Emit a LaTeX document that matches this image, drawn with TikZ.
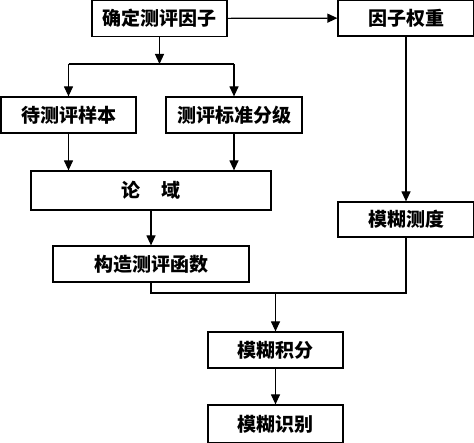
\documentclass[tikz,border=0pt]{standalone}
\usepackage{fontspec}
\newfontfamily\cjk{Noto Sans CJK SC}
\usetikzlibrary{arrows.meta}

\begin{document}
\begin{tikzpicture}[x=1pt, y=-1pt,
    font=\cjk\bfseries\fontsize{19}{19}\selectfont,
    >={Triangle[length=10pt,width=9pt]},
    box/.style={draw, line width=1.2pt, minimum height=36pt, inner sep=0pt},
    every path/.style={line width=1.2pt}]
    \useasboundingbox (0,0) rectangle (474,443);
    % Nodes
    \node (factor) [box, minimum width=135pt] at (159.5,18.5) {确定测评因子};
    \node (weight) [box, minimum width=136pt] at (406,18) {因子权重};
    \node (sample) [box, minimum width=135pt] at (68.5,115) {待测评样本};
    \node (grade) [box, minimum width=136pt] at (234,115) {测评标准分级};
    \node (domain) [box, minimum width=240pt, minimum height=39pt] at (151,190.5) {论\hspace{1.1em}域};
    \node (func) [box, minimum width=196pt] at (151,264) {构造测评函数};
    \node (measure) [box, minimum width=136pt, minimum height=35pt] at (406,219.5) {模糊测度};
    \node (integral) [box, minimum width=135pt] at (275.5,350) {模糊积分};
    \node (recog) [box, minimum width=135pt, minimum height=38pt] at (275.5,424) {模糊识别};

    % Junctions
    \coordinate (split) at (159.5,64);
    \coordinate (merge) at (275.5,293);

    % Arrows
    \draw[->] (factor) -- (weight);
    \draw[->] (factor) -- (split);
    \draw (sample.north |- split) -- (grade.north |- split);
    \draw[->] (sample.north |- split) -- (sample);
    \draw[->] (grade.north |- split) -- (grade);
    \draw[->] (sample) -- (sample |- domain.north);
    \draw[->] (grade) -- (grade |- domain.north);
    \draw[->] (domain) -- (func);
    \draw[->] (weight) -- (measure);
    \draw (func.south) |- (merge) -| (measure.south);
    \draw[->] (merge) -- (integral);
    \draw[->] (integral) -- (recog);
\end{tikzpicture}
\end{document}
